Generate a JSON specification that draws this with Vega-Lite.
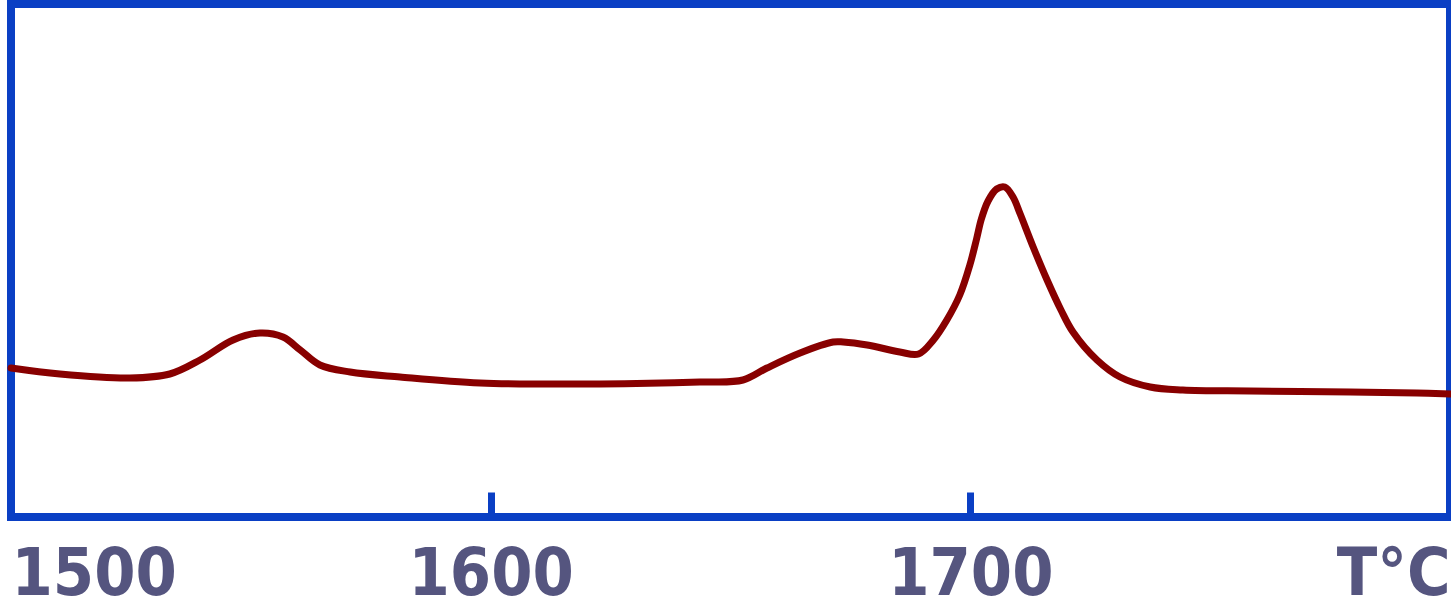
{
  "$schema": "https://vega.github.io/schema/vega-lite/v6.json",
  "width": 1439,
  "height": 513,
  "autosize": {"type": "none"},
  "padding": {"left": 11, "top": 4, "right": 1, "bottom": 86},
  "background": "white",
  "view": {"stroke": "#0a3fc4", "strokeWidth": 8},
  "data": {
    "values": [
      {"T": 1500.0, "v": 149},
      {"T": 1510.2, "v": 143},
      {"T": 1524.8, "v": 139},
      {"T": 1533.1, "v": 143},
      {"T": 1539.4, "v": 157},
      {"T": 1546.3, "v": 177},
      {"T": 1551.9, "v": 184},
      {"T": 1556.7, "v": 180},
      {"T": 1560.3, "v": 167},
      {"T": 1564.4, "v": 152},
      {"T": 1570.7, "v": 145},
      {"T": 1581.1, "v": 140},
      {"T": 1597.8, "v": 134},
      {"T": 1622.8, "v": 133},
      {"T": 1643.6, "v": 135},
      {"T": 1652.6, "v": 137},
      {"T": 1657.6, "v": 149},
      {"T": 1664.5, "v": 164},
      {"T": 1671.4, "v": 175},
      {"T": 1673.5, "v": 175},
      {"T": 1678.5, "v": 172},
      {"T": 1685.3, "v": 165},
      {"T": 1689.2, "v": 163},
      {"T": 1692.3, "v": 177},
      {"T": 1695.1, "v": 197},
      {"T": 1697.8, "v": 222},
      {"T": 1699.9, "v": 252},
      {"T": 1701.3, "v": 278},
      {"T": 1702.3, "v": 298},
      {"T": 1703.7, "v": 316},
      {"T": 1705.5, "v": 328},
      {"T": 1707.2, "v": 330},
      {"T": 1708.9, "v": 320},
      {"T": 1710.4, "v": 303},
      {"T": 1713.1, "v": 270},
      {"T": 1716.0, "v": 237},
      {"T": 1718.9, "v": 207},
      {"T": 1721.4, "v": 185},
      {"T": 1726.4, "v": 157},
      {"T": 1731.2, "v": 140},
      {"T": 1737.5, "v": 130},
      {"T": 1744.3, "v": 127},
      {"T": 1758.3, "v": 126},
      {"T": 1779.2, "v": 125},
      {"T": 1793.1, "v": 124},
      {"T": 1800.0, "v": 123}
    ]
  },
  "mark": {"type": "line", "color": "#880000", "strokeWidth": 7, "interpolate": "catmull-rom", "strokeCap": "round", "strokeJoin": "round"},
  "encoding": {
    "x": {
      "field": "T",
      "type": "quantitative",
      "scale": {"domain": [1500, 1800], "nice": false, "zero": false},
      "axis": {
        "title": null,
        "values": [1500, 1600, 1700, 1800],
        "format": "d",
        "labelExpr": "datum.value == 1800 ? 'T°C' : datum.label",
        "labelFlush": true,
        "labelBound": false,
        "labelOverlap": false,
        "labelLimit": 0,
        "domain": false,
        "grid": false,
        "ticks": true,
        "tickSize": -25,
        "tickWidth": 7,
        "tickColor": "#0a3fc4",
        "labelFont": "DejaVu Sans Condensed, DejaVu Sans, sans-serif",
        "labelFontWeight": "bold",
        "labelFontSize": 66,
        "labelColor": "#55557f",
        "labelBaseline": "top",
        "labelPadding": 50
      }
    },
    "y": {
      "field": "v",
      "type": "quantitative",
      "scale": {"domain": [0, 513], "nice": false, "zero": false},
      "axis": null
    }
  }
}
